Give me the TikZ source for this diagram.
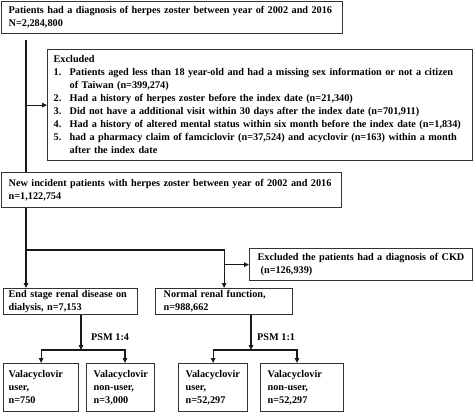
\documentclass[tikz,border=0pt]{standalone}
\usepackage{fontspec}
\setmainfont{Liberation Serif}
\usetikzlibrary{arrows.meta}
\newcommand\boxlines[1]{\begin{tabular}{@{}l@{}}#1\end{tabular}}
\begin{document}
\begin{tikzpicture}[x=1pt,y=-1pt,
  box/.style={draw=black!80, line width=1.3pt, anchor=north west, inner ysep=0pt,
    font=\fontsize{10.25}{13}\selectfont\bfseries, align=left},
  lbl/.style={inner sep=0pt, anchor=west, font=\fontsize{10.25}{13}\selectfont\bfseries},
  conn/.style={line width=1.05pt, draw=black!90},
  arr/.style={conn, -{Triangle[length=5pt,width=4.5pt]}}]
\useasboundingbox (0,0) rectangle (474,412);

\node[box, text width=327pt, inner xsep=7pt, minimum height=32pt] (b1) at (1,1)
  {\boxlines{Patients had a diagnosis of herpes zoster between year of 2002 and 2016\\N=2,284,800}};

\node[box, text width=413pt, inner xsep=6pt, minimum height=111pt] (excl) at (47,49)
  {\begin{tabular}{@{}p{16pt}@{}l@{}}
   \multicolumn{2}{@{}l@{}}{Excluded}\\
   1. & Patients aged less than 18 year-old and had a missing sex information or not a citizen\\
      & of Taiwan (n=399,274)\\
   2. & Had a history of herpes zoster before the index date (n=21,340)\\
   3. & Did not have a additional visit within 30 days after the index date (n=701,911)\\
   4. & Had a history of altered mental status within six month before the index date (n=1,834)\\
   5. & had a pharmacy claim of famciclovir (n=37,524) and acyclovir (n=163) within a month\\
      & after the index date
   \end{tabular}};

\node[box, text width=326pt, inner xsep=7pt, minimum height=35pt] (new) at (1,172)
  {\boxlines{New incident patients with herpes zoster between year of 2002 and 2016\\n=1,122,754}};

\node[box, text width=207pt, inner xsep=8pt, minimum height=32pt] (ckd) at (249,248)
  {\boxlines{Excluded the patients had a diagnosis of CKD\\\hspace*{3pt}(n=126,939)}};

\node[box, text width=124pt, inner xsep=5pt, minimum height=26pt] (esrd) at (3,288)
  {\boxlines{End stage renal disease on\\dialysis, n=7,153}};

\node[box, text width=121pt, inner xsep=8pt, minimum height=26pt] (normal) at (155,288)
  {\boxlines{Normal renal function,\\n=988,662}};

\node[box, text width=65pt, inner xsep=5pt, minimum height=48pt] (vu1) at (3,363)
  {\boxlines{Valacyclovir\\user,\\n=750}};
\node[box, text width=54pt, inner xsep=7pt, minimum height=48pt] (vnu1) at (86,363)
  {\boxlines{Valacyclovir\\non-user,\\n=3,000}};
\node[box, text width=55pt, inner xsep=7pt, minimum height=48pt] (vu2) at (178,363)
  {\boxlines{Valacyclovir\\user,\\n=52,297}};
\node[box, text width=69pt, inner xsep=7pt, minimum height=48pt] (vnu2) at (260,363)
  {\boxlines{Valacyclovir\\non-user,\\n=52,297}};

\node[lbl] (psm1) at (91,337) {PSM 1:4};
\node[lbl] (psm2) at (257,337) {PSM 1:1};

% connectors
\coordinate (s) at (26,40);
\coordinate (t) at (26,250);
\coordinate (e) at (81,350);
\coordinate (ea) at (125,0);
\coordinate (n) at (251,350);
\coordinate (na) at (297,0);

\draw[conn] (s) -- (s |- new.north);
\draw[arr] (s |- excl.west) -- (excl.west);
\draw[arr] (new.south -| s) -- (esrd.north -| s);
\draw[arr] (t) -| (normal.north);
\draw[arr] (normal.north |- ckd.west) -- (ckd.west);

\draw[arr] (esrd.south -| e) -- (e);
\draw[arr] (e) -| (vu1.north);
\draw[arr] (e) -| (vnu1.north -| ea);

\draw[arr] (normal.south -| n) -- (n);
\draw[arr] (n) -| (vu2.north);
\draw[arr] (n) -| (vnu2.north -| na);
\end{tikzpicture}
\end{document}
